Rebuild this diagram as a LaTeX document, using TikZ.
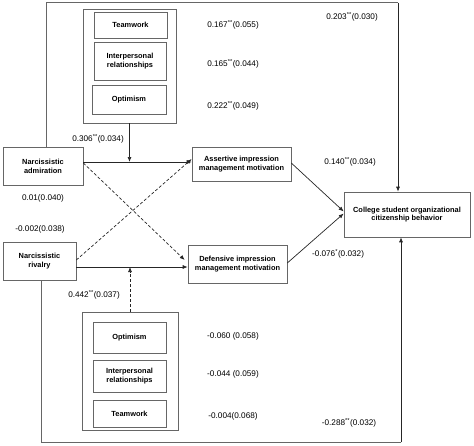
\documentclass[tikz,border=0pt]{standalone}
\usepackage{fontspec}
\setmainfont{Liberation Sans}
\usetikzlibrary{arrows.meta}
\begin{document}
\begin{tikzpicture}[x=1pt,y=-1pt,
  box/.style={draw=black!60,line width=0.6pt,align=center,inner sep=0pt,font=\fontsize{7.4}{8.7}\selectfont\bfseries},
  grp/.style={draw=black!60,line width=0.6pt,inner sep=0pt},
  lab/.style={font=\fontsize{8.2}{9.4}\selectfont,inner sep=0pt},
  arr/.style={-{Latex[length=5pt,width=4pt]},line width=0.7pt,black!85},
  darr/.style={arr,dash pattern=on 3pt off 2pt},
  frame/.style={line width=0.6pt,black!60}]
\useasboundingbox (0,0) rectangle (474,445);
% main boxes
\node[box,minimum width=80pt,minimum height=38pt] (adm) at (43,166) {Narcissistic\\admiration};
\node[box,minimum width=99pt,minimum height=34pt] (ass) at (241.5,164) {Assertive impression\\management motivation};
\node[box,minimum width=73pt,minimum height=38pt] (riv) at (39.5,261) {Narcissistic\\rivalry};
\node[box,minimum width=99pt,minimum height=38pt] (def) at (237.5,264) {Defensive impression\\management motivation};
\node[box,minimum width=126pt,minimum height=45pt] (col) at (407,214.5) {College student organizational\\citizenship behavior};
% upper moderator group
\node[grp,minimum width=93pt,minimum height=114pt] (ug) at (129.5,66) {};
\node[box,minimum width=73pt,minimum height=26pt] (ut) at (130.5,25) {Teamwork};
\node[box,minimum width=72pt,minimum height=38pt] (ui) at (130,61) {Interpersonal\\relationships};
\node[box,minimum width=74pt,minimum height=29pt] (uo) at (129,99.5) {Optimism};
% lower moderator group
\node[grp,minimum width=96pt,minimum height=118pt] (lg) at (130,371) {};
\node[box,minimum width=73pt,minimum height=31pt] (lo) at (129.5,337.5) {Optimism};
\node[box,minimum width=73pt,minimum height=32pt] (li) at (129.5,376) {Interpersonal\\relationships};
\node[box,minimum width=73pt,minimum height=27pt] (lt) at (129.5,413.5) {Teamwork};
% paths
\draw[arr] ([yshift=4pt]adm.east) -- ([yshift=2pt]ass.west) coordinate[pos=0.425] (m1);
\draw[arr] (ug.south) -- (ug.south |- m1);
\draw[arr] ([yshift=-6pt]riv.east) -- ([yshift=-3pt]def.west) coordinate[pos=0.48] (m2);
\draw[darr] (lg.north) -- (lg.north |- m2);
\draw[darr] ([yshift=3pt]adm.east) -- ([xshift=-3pt,yshift=4pt]def.west);
\draw[darr] ([yshift=1pt]riv.east) -- ([yshift=5pt]ass.west);
\draw[arr] ([yshift=1pt]ass.east) -- ([yshift=3pt]col.west);
\draw[arr] ([yshift=1pt]def.east) -- ([yshift=1pt]col.west);
\draw[frame] ([xshift=3pt]adm.north) -- ++(0,-144) coordinate (f1) -- (f1 -| 398,0) coordinate (f2);
\draw[arr] (f2) -- (f2 |- col.north);
\draw[frame] ([xshift=1.5pt]riv.south) -- ++(0,162) coordinate (f3) -- (f3 -| 401,0) coordinate (f4);
\draw[arr] (f4) -- (f4 |- col.south);
% labels
\node[lab] (l1) at (233,25) {0.167\textsuperscript{**}(0.055)};
\node[lab] (l2) at (233,64) {0.165\textsuperscript{**}(0.044)};
\node[lab] (l3) at (233,106) {0.222\textsuperscript{**}(0.049)};
\node[lab] (l4) at (352,17) {0.203\textsuperscript{**}(0.030)};
\node[lab] (l5) at (98,139) {0.306\textsuperscript{**}(0.034)};
\node[lab] (l6) at (350,162) {0.140\textsuperscript{**}(0.034)};
\node[lab] (l7) at (338,254) {-0.076\textsuperscript{*}(0.032)};
\node[lab] (l8) at (43,198) {0.01(0.040)};
\node[lab] (l9) at (40,229) {-0.002(0.038)};
\node[lab] (l10) at (94,295) {0.442\textsuperscript{**}(0.037)};
\node[lab] (l11) at (233,336) {-0.060 (0.058)};
\node[lab] (l12) at (233,374) {-0.044 (0.059)};
\node[lab] (l13) at (233,416) {-0.004(0.068)};
\node[lab] (l14) at (349,423) {-0.288\textsuperscript{**}(0.032)};
\end{tikzpicture}
\end{document}
